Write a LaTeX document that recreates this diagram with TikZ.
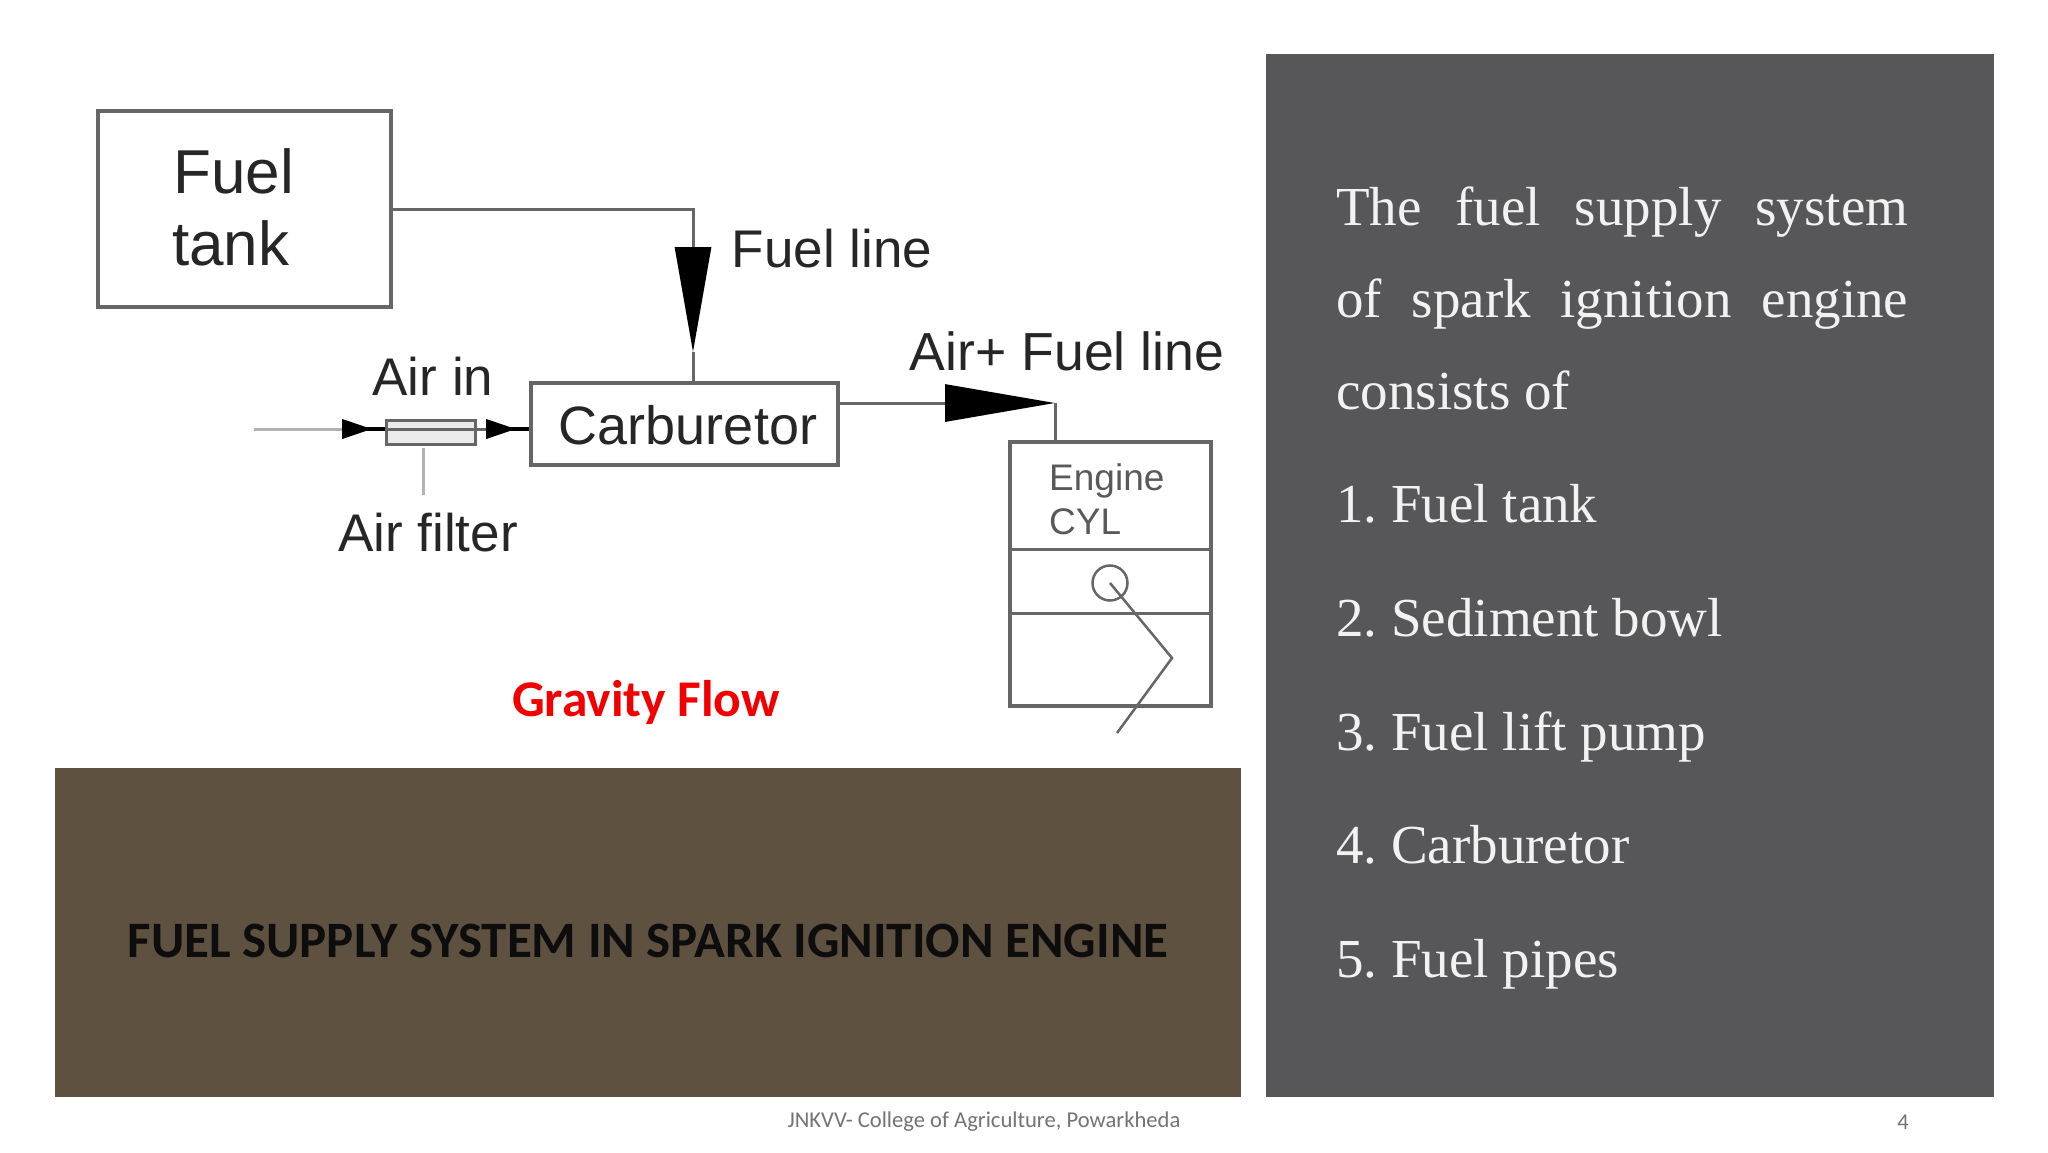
\documentclass[tikz,border=0pt]{standalone}
\usepackage{fontspec}
\setmainfont{Liberation Sans}
\newfontfamily\bodyfont{Liberation Serif}
\newfontfamily\calib{Carlito}
\usetikzlibrary{arrows.meta,calc}
\definecolor{brownpanel}{HTML}{5F5140}
\definecolor{greypanel}{HTML}{575658}
\definecolor{wire}{HTML}{666666}
\definecolor{bodytext}{HTML}{F2F2F2}
\newcommand{\fsz}[1]{\fontsize{#1pt}{#1pt}\selectfont}
\newcommand{\rline}[1]{\makebox[572pt][s]{#1}}
\frenchspacing
\tikzset{
  x=1pt,y=-1pt,
  panel/.style={draw=none,inner sep=0pt,anchor=north west},
  box/.style={draw=wire,line width=4pt,fill=white,inner sep=0pt,anchor=north west},
  pipe/.style={draw=wire,line width=3pt},
  airhead/.style={draw=black,line width=4pt,-{Triangle[length=30pt,width=19pt,color=black,fill=black]}},
  lbl/.style={inner sep=0pt,text=black!85,font=\fsz{53}},
  rtext/.style={inner sep=0pt,anchor=base west,text=bodytext,font=\bodyfont\fsz{55}},
  foot/.style={inner sep=0pt,text=black!55,font=\calib\fsz{22.6}},
}
\begin{document}
\begin{tikzpicture}
\useasboundingbox (0,0) rectangle (2048,1152);
\fill[white] (0,0) rectangle (2048,1152);
% panels
\node[panel,fill=brownpanel,minimum width=1186pt,minimum height=329pt] (brown) at (55,768) {};
\node[panel,fill=greypanel,minimum width=728pt,minimum height=1043pt] (grey) at (1266,54) {};
% boxes
\node[box,minimum width=293pt,minimum height=196pt] (tank) at (96,109) {};
\node[box,minimum width=307pt,minimum height=82pt] (carb) at (529,381) {};
\node[box,minimum width=201pt,minimum height=264pt] (engine) at (1008,440) {};
\node[draw=wire,line width=2.5pt,fill=black!8,inner sep=0pt,minimum width=89pt,minimum height=24pt,anchor=north west] (filter) at (385,419) {};
% box text
\node[lbl,anchor=base west,font=\fsz{62}] (tanka) at (173,193) {Fuel};
\node[lbl,anchor=base west,font=\fsz{62}] (tankb) at (172,265) {tank};
\node[lbl,anchor=base,font=\fsz{54}] (carbt) at (688,444) {Carburetor};
\node[lbl,anchor=base] (fuelline) at (832,267) {Fuel line};
\node[lbl,anchor=base] (airin) at (433,395) {Air in};
\node[lbl,anchor=base] (airfilter) at (428,551) {Air filter};
\node[lbl,anchor=base,font=\fsz{53.6}] (airfuel) at (1067,370) {Air+ Fuel line};
\node[lbl,anchor=base west,font=\fsz{37},text=black!65] (enga) at (1049,490) {Engine};
\node[lbl,anchor=base west,font=\fsz{37},text=black!65] (engb) at (1049,534) {CYL};
% fuel line
\coordinate (fueltip) at (693,352);
\draw[pipe,-{Triangle[length=105pt,width=36pt,color=black,fill=black]}] (tank.east) -| (fueltip);
\draw[pipe] (fueltip) -- (fueltip |- carb.north);
% air + fuel line
\coordinate (mixtip) at (1055,403);
\draw[pipe,-{Triangle[length=110pt,width=37pt,color=black,fill=black]}] (carb.east |- mixtip) -- (mixtip);
\draw[pipe] (mixtip) -- (mixtip |- engine.north);
% air in
\coordinate (airstart) at (254,429);
\coordinate (airbase) at (342,429);
\coordinate (airtip) at (385,429);
\coordinate (filterbase) at (486,429);
\coordinate (airhd) at (372,429);
\coordinate (filterhd) at (516,429);
\draw[draw=black!30,line width=3pt] (airstart) -- (airbase);
\draw[draw=black,line width=4pt] (airbase) -- (airtip);
\draw[airhead] (airbase) -- (airhd);
\draw[draw=wire,line width=3pt] (airtip) -- (filterbase);
\draw[draw=black,line width=4pt] (filterbase) -- (filterbase -| carb.west);
\draw[airhead] (filterbase) -- (filterhd);
% filter tick
\coordinate (ticktop) at (423,448);
\coordinate (tickend) at (423,495);
\draw[draw=black!30,line width=3pt] (ticktop) -- (tickend);
% engine internals
\draw[pipe] (engine.west |- 0,549) coordinate (d1l) -- (engine.east |- 0,549) coordinate (d1r);
\draw[pipe] (engine.west |- 0,613) coordinate (d2l) -- (engine.east |- 0,613) coordinate (d2r);
\node[draw=wire,line width=2.5pt,circle,inner sep=0pt,minimum size=35pt] (crank) at (1110,583) {};
\coordinate (bend) at (1172,658);
\coordinate (rodend) at (1117,733);
\draw[draw=wire,line width=2.5pt] (crank.center) -- (bend) -- (rodend);
% labels
\node[inner sep=0pt,text=red!95!black,font=\calib\bfseries\fsz{51.5}] (gravity) at (646,702) {Gravity Flow};
\node[inner sep=0pt,text=black!95,font=\calib\bfseries\fsz{51}] (title) at (648,941) {FUEL SUPPLY SYSTEM IN SPARK IGNITION ENGINE};
% right column
\node[rtext] (r1) at (1336,225) {\rline{The\hfil fuel\hfil supply\hfil system}};
\node[rtext] (r2) at (1336,317) {\rline{of\hfil spark\hfil ignition\hfil engine}};
\node[rtext] (r3) at (1336,409) {consists of};
\node[rtext] (r4) at (1336,522) {1. Fuel tank};
\node[rtext] (r5) at (1336,636) {2. Sediment bowl};
\node[rtext] (r6) at (1336,750) {3. Fuel lift pump};
\node[rtext] (r7) at (1336,863) {4. Carburetor};
\node[rtext] (r8) at (1336,977) {5. Fuel pipes};
% footer
\node[foot] (f1) at (984,1122) {JNKVV- College of Agriculture, Powarkheda};
\node[foot] (f2) at (1903,1122) {4};
\end{tikzpicture}
\end{document}
